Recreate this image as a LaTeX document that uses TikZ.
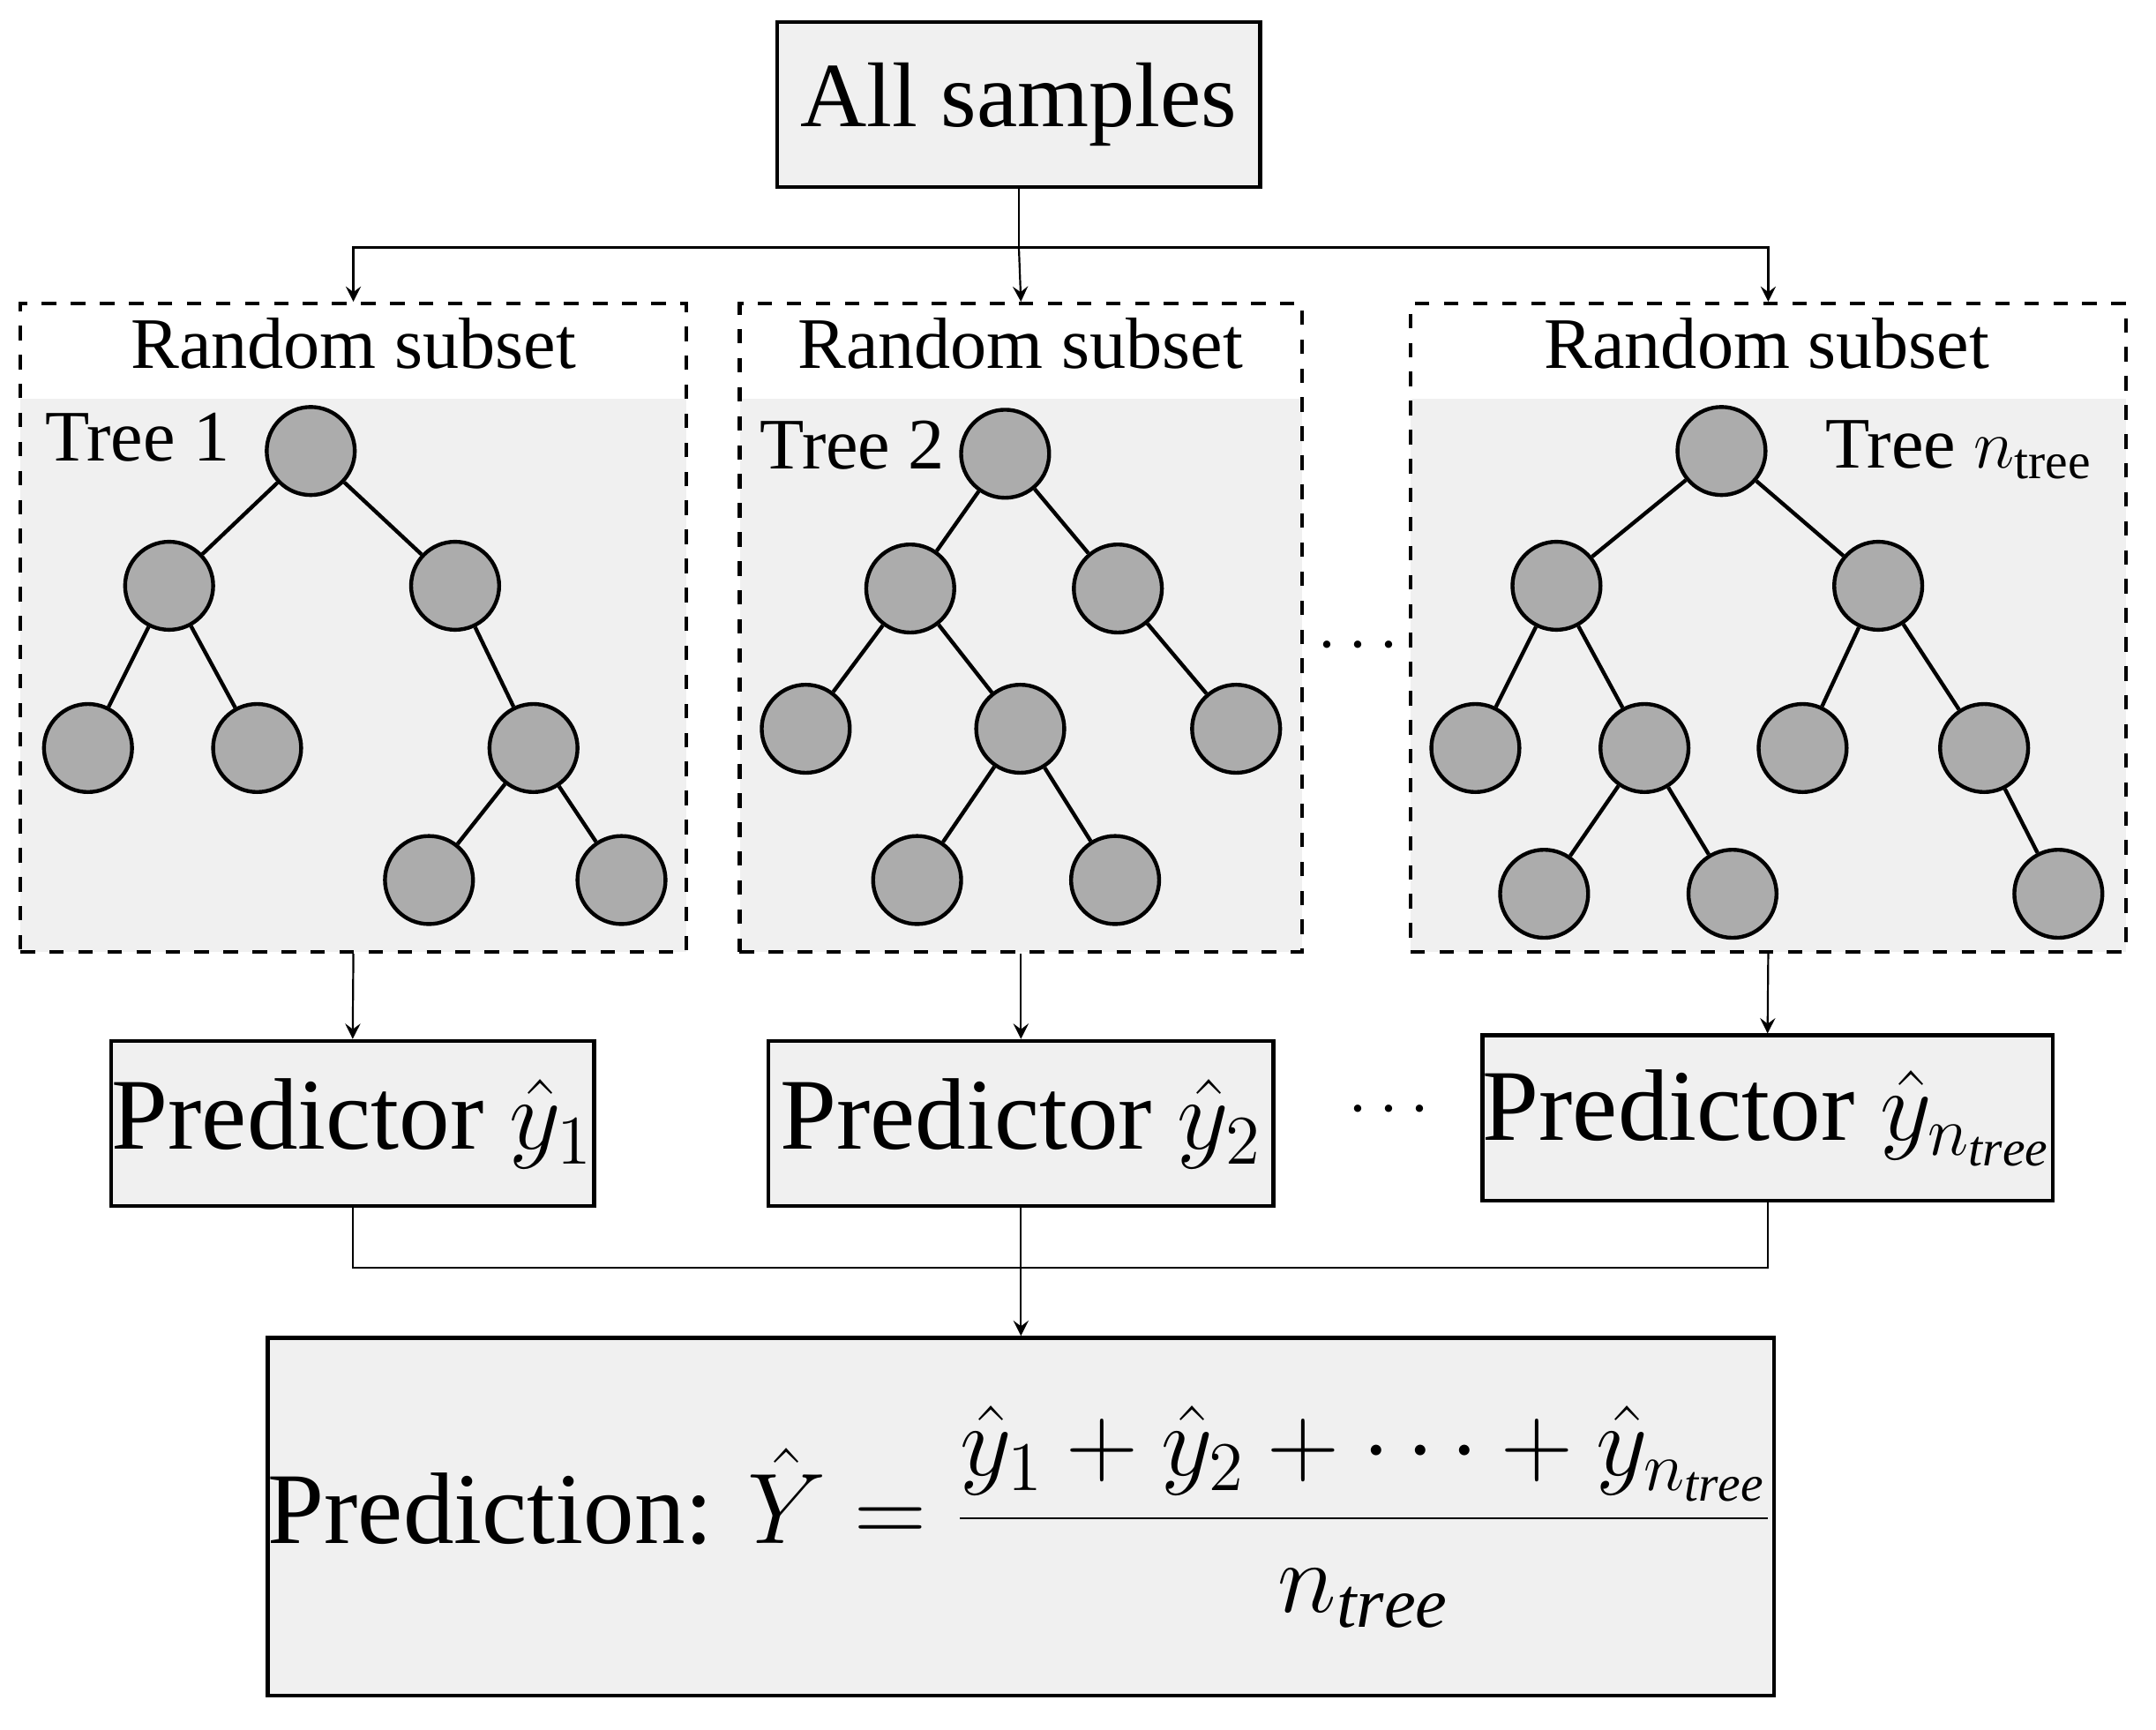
\documentclass[tikz,border=0pt]{standalone}
\usepackage{fontspec}
\setmainfont{Liberation Serif}
\usetikzlibrary{positioning}
\tikzset{
  solidbox/.style={draw,thick,fill=gray!12,inner sep=0pt},
  subsetbox/.style={draw,thick,dashed,inner sep=0pt},
  leaf/.style={circle,draw,thick,fill=gray!65,minimum size=0.64cm,inner sep=0pt},
  link/.style={thick},
  flow/.style={->,>=stealth}
}
\begin{document}
\begin{tikzpicture}[x=0.01cm,y=-0.01cm,font=\fontsize{15}{18}\selectfont]
  \useasboundingbox (0,0) rectangle (1568,1258);
  % top
  \node[solidbox,minimum width=3.51cm,minimum height=1.2cm,font=\fontsize{19}{22}\selectfont] (all) at (741,76) {All samples};
  % subset boxes
  \fill[gray!12] (15,290) rectangle (499,692);
  \fill[gray!12] (538,290) rectangle (947,692);
  \fill[gray!12] (1026,290) rectangle (1546,692);
  \node[subsetbox,minimum width=4.84cm,minimum height=4.71cm] (sub1) at (257,456.5) {};
  \node[subsetbox,minimum width=4.09cm,minimum height=4.71cm] (sub2) at (742.5,456.5) {};
  \node[subsetbox,minimum width=5.20cm,minimum height=4.71cm] (sub3) at (1286,456.5) {};
  \node (rs1) at (257,250) {Random subset};
  \node (rs2) at (742,250) {Random subset};
  \node (rs3) at (1285,250) {Random subset};
  \node (lab1) at (100,318) {Tree 1};
  \node (lab2) at (620,324) {Tree 2};
  \node (lab3) at (1425,327) {Tree $n_{\mathrm{tree}}$};
  % tree 1
  \foreach \n/\x/\y in {a0/226/328,a1/123/426,a2/331/426,a3/64/544,a4/187/544,a5/388/544,a6/312/640,a7/452/640}
    \node[leaf] (\n) at (\x,\y) {};
  \foreach \u/\v in {a0/a1,a0/a2,a1/a3,a1/a4,a2/a5,a5/a6,a5/a7}
    \draw[link] (\u) -- (\v);
  % tree 2
  \foreach \n/\x/\y in {b0/731/330,b1/662/428,b2/813/428,b3/586/530,b4/742/530,b5/899/530,b6/667/640,b7/811/640}
    \node[leaf] (\n) at (\x,\y) {};
  \foreach \u/\v in {b0/b1,b0/b2,b1/b3,b1/b4,b2/b5,b4/b6,b4/b7}
    \draw[link] (\u) -- (\v);
  % tree n
  \foreach \n/\x/\y in {c0/1252/328,c1/1132/426,c2/1366/426,c3/1073/544,c4/1196/544,c5/1311/544,c6/1443/544,c7/1123/650,c8/1260/650,c9/1497/650}
    \node[leaf] (\n) at (\x,\y) {};
  \foreach \u/\v in {c0/c1,c0/c2,c1/c3,c1/c4,c2/c5,c2/c6,c4/c7,c4/c8,c6/c9}
    \draw[link] (\u) -- (\v);
  \node (dots1) at (988,470) {$\cdots$};
  \node (dots2) at (1010,808) {$\cdots$};
  % predictors
  \node[solidbox,minimum width=3.51cm,minimum height=1.2cm,font=\fontsize{21}{24}\selectfont] (p1) at (256.5,817) {Predictor $\hat{y}_1$};
  \node[solidbox,minimum width=3.67cm,minimum height=1.2cm,font=\fontsize{21}{24}\selectfont] (p2) at (742.5,817) {Predictor $\hat{y}_2$};
  \node[solidbox,minimum width=4.03cm,minimum height=1.2cm,font=\fontsize{21}{24}\selectfont] (p3) at (1285.5,813) {Predictor $\hat{y}_{n_{\mathit{tree}}}$};
  % result
  \node[solidbox,minimum width=10.83cm,minimum height=2.6cm,font=\fontsize{21}{24}\selectfont] (res) at (742.5,1103)
    {Prediction: $\displaystyle\hat{Y}=\frac{\hat{y}_1+\hat{y}_2+\cdots+\hat{y}_{n_{\mathit{tree}}}}{n_{\mathit{tree}}}$};
  % connectors
  \coordinate (split) at (741,180);
  \coordinate (join) at (741,922);
  \draw (all) -- (split);
  \draw[flow] (split) -- (sub2.north);
  \draw[flow] (split) -| (sub1.north);
  \draw[flow] (split) -| (sub3.north);
  \draw[flow] (sub1.south) -- (p1.north);
  \draw[flow] (sub2.south) -- (p2.north);
  \draw[flow] (sub3.south) -- (p3.north);
  \draw (p1.south) |- (join);
  \draw (p3.south) |- (join);
  \draw[flow] (p2.south) -- (res.north);
\end{tikzpicture}
\end{document}
